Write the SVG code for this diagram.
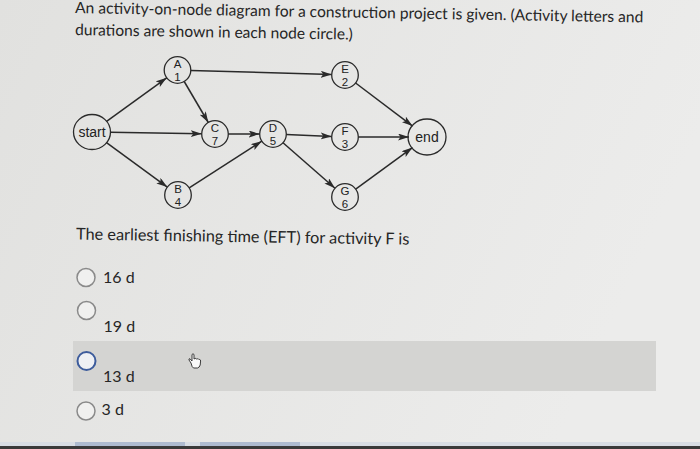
<svg xmlns="http://www.w3.org/2000/svg" width="700" height="449" viewBox="0 0 700 449">
<defs>
<linearGradient id="bg" x1="0" y1="0" x2="1" y2="0.3">
<stop offset="0" stop-color="#e1e1df"/>
<stop offset="1" stop-color="#ececeb"/>
</linearGradient>
<marker id="ah" markerUnits="userSpaceOnUse" markerWidth="12" markerHeight="8" refX="11" refY="3.5" orient="auto">
<path d="M0,0 L11,3.5 L0,7 L2.5,3.5 z" fill="#2a2a2a"/>
</marker>
<style>
.q{font-family:Lato,"Liberation Sans",sans-serif;fill:#262626;}
.t{font-size:15.6px;}
.u{font-size:16.3px;}
.o{font-size:16px;}
.n circle,.n ellipse{fill:none;stroke:#2a2a2a;stroke-width:1.3;}
.n text{font-family:"Liberation Sans",Arial,sans-serif;font-size:11.5px;fill:#222;text-anchor:middle;}
.n text.w{font-size:14px;}
#edges line{stroke:#2a2a2a;stroke-width:1.5;marker-end:url(#ah);}
.r{fill:#f0f0ef;stroke:#8a8a8a;stroke-width:1.5;}
</style>
</defs>
<rect x="0" y="0" width="700" height="449" fill="url(#bg)"/>
<rect x="73" y="341" width="583" height="50" fill="#d4d4d2"/>
<rect x="0" y="442" width="700" height="4" fill="#d8dde4"/>
<rect x="75" y="442" width="110" height="4" fill="#aebbd0"/>
<rect x="200" y="442" width="100" height="4" fill="#aebbd0"/>
<rect x="0" y="446" width="700" height="3" fill="#3a3a3a"/>

<g id="title" class="q t">
<text x="75" y="13" transform="rotate(0.95 75 13)">An activity-on-node diagram for a construction project is given. (Activity letters and</text>
<text x="75" y="35" transform="rotate(0.95 75 35)">durations are shown in each node circle.)</text>
</g>

<g id="edges">
<line x1="106.6" y1="121.4" x2="166.7" y2="77.8"/>
<line x1="110" y1="132.3" x2="201.7" y2="133.8"/>
<line x1="106.5" y1="142.6" x2="167.3" y2="187.1"/>
<line x1="190.8" y1="70.4" x2="331.7" y2="74.6"/>
<line x1="184.2" y1="81.5" x2="208.3" y2="122.5"/>
<line x1="228.3" y1="134" x2="259.7" y2="134"/>
<line x1="189.2" y1="187.8" x2="261.8" y2="141.2"/>
<line x1="286.3" y1="134.6" x2="331.7" y2="136.4"/>
<line x1="283" y1="142.8" x2="335" y2="188.2"/>
<line x1="355.6" y1="83" x2="412.6" y2="126.1"/>
<line x1="358.3" y1="137" x2="409" y2="137"/>
<line x1="355.7" y1="189.1" x2="412.5" y2="147.6"/>
</g>

<g id="start" class="n"><ellipse cx="92" cy="132" rx="18.5" ry="17.5"/><text class="w" x="92" y="137">start</text></g>
<g id="A" class="n"><circle cx="177.5" cy="70" r="13.3"/><text x="177.5" y="68.3">A<tspan x="177.5" dy="12.8">1</tspan></text></g>
<g id="E" class="n"><circle cx="345" cy="75" r="13.3"/><text x="345" y="73.3">E<tspan x="345" dy="12.8">2</tspan></text></g>
<g id="C" class="n"><circle cx="215" cy="134" r="13.3"/><text x="215" y="132.3">C<tspan x="215" dy="12.8">7</tspan></text></g>
<g id="D" class="n"><circle cx="273" cy="134" r="13.3"/><text x="273" y="132.3">D<tspan x="273" dy="12.8">5</tspan></text></g>
<g id="F" class="n"><circle cx="345" cy="137" r="13.3"/><text x="345" y="135.3">F<tspan x="345" dy="12.8">3</tspan></text></g>
<g id="B" class="n"><circle cx="178" cy="195" r="13.3"/><text x="178" y="193.3">B<tspan x="178" dy="12.8">4</tspan></text></g>
<g id="G" class="n"><circle cx="345" cy="197" r="13.3"/><text x="345" y="195.3">G<tspan x="345" dy="12.8">6</tspan></text></g>
<g id="end" class="n"><ellipse cx="427" cy="137" rx="19" ry="18"/><text class="w" x="427" y="142">end</text></g>

<g id="question" class="q u">
<text x="76" y="239.5" transform="rotate(0.9 76 239.5)">The earliest finishing time (EFT) for activity F is</text>
</g>

<g id="options" class="q o">
<circle class="r" cx="86" cy="277.5" r="9"/>
<text x="103" y="282.7">16 d</text>
<circle class="r" cx="86.5" cy="310.5" r="9"/>
<text x="103.5" y="332.3">19 d</text>
<circle cx="86.5" cy="361" r="9" fill="#eef0f4" stroke="#3d5c9c" stroke-width="2"/>
<text x="103" y="382.3">13 d</text>
<circle class="r" cx="86" cy="411" r="9"/>
<text x="101.5" y="415">3 d</text>
</g>

<g id="cursor">
<path d="M191,363 L189,360 Q188.5,358.5 190,358.8 L192,361 L192,354.5 Q193,353 194,354.5 L194,359 L195,358.5 Q196,358 196.6,359 L197.5,358.8 Q198.5,358.6 199,359.6 L199.6,359.5 Q200.6,359.6 200.6,361 L200.2,365 Q199.5,367.5 197.5,368 L193.5,368 Q192,367.5 191,363 z" fill="#fafafa" stroke="#2a2a2a" stroke-width="0.9"/>
</g>
</svg>
